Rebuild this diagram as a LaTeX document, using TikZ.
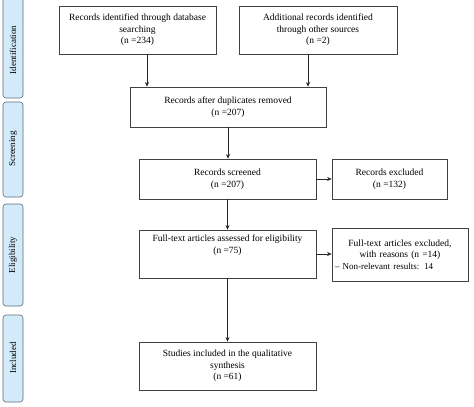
\documentclass[tikz,border=0pt]{standalone}
\usepackage{fontspec}
\setmainfont{Liberation Serif}
\usetikzlibrary{arrows.meta,positioning}
\definecolor{bandfill}{HTML}{D2EAFA}
\definecolor{bandline}{HTML}{5F6B75}
\definecolor{boxline}{HTML}{404040}
\tikzset{>={Stealth[length=4.5pt,width=4pt]},x=1pt,y=-1pt}
\tikzset{
    stage/.style={draw=bandline,fill=bandfill,rounded corners=3pt,line width=0.6pt},
    stagetext/.style={rotate=90,font=\fontsize{9}{10}\selectfont},
    box/.style={draw=boxline,line width=0.7pt,align=center,inner sep=2pt,
        font=\fontsize{9.5}{11.5}\selectfont},
    flow/.style={->,draw=black!85,line width=0.8pt}
}

\begin{document}
\begin{tikzpicture}
    \useasboundingbox (0,0) rectangle (474,407);
    % phase bands on the left
    \begin{scope}
        \clip (0,0) rectangle (474,407);
        \draw[stage] (3,-4) rectangle (23,98);
        \draw[stage] (3,102) rectangle (23,197);
        \draw[stage] (3,204) rectangle (23,306);
        \draw[stage] (3,315) rectangle (23,402);
    \end{scope}
    \node[stagetext] (ident) at (13,50)  {Identification};
    \node[stagetext] (scrn)  at (13,149) {Screening};
    \node[stagetext] (elig)  at (13,255) {Eligibility};
    \node[stagetext] (incl)  at (13,358) {Included};

    % flow boxes
    \node[box,minimum width=157,minimum height=48] (db)  at (137.5,30)
        {Records identified through database\\searching\\(n =234)};
    \node[box,minimum width=158,minimum height=48] (other) at (318,30)
        {Additional records identified\\through other sources\\(n =2)};
    \node[box,minimum width=196,minimum height=40] (dup) at (228,107)
        {Records after duplicates removed\\(n =207)};
    \node[box,minimum width=177,minimum height=40] (scr) at (227.5,179)
        {Records screened\\(n =207)};
    \node[box,minimum width=115,minimum height=40] (exc) at (389.5,179)
        {Records excluded\\(n =132)};
    \node[box,minimum width=177,minimum height=48] (full) at (227.5,254)
        {Full-text articles assessed for eligibility\\(n =75)\\[8pt]};
    \node[box,text width=130,minimum height=53,inner sep=3pt] (ftexc) at (400,254.5)
        {Full-text articles excluded,\\with reasons (n =14)\\
         \makebox[\linewidth][l]{\fontsize{9}{10}\selectfont -- Non-relevant results: 14}};
    \node[box,minimum width=177,minimum height=48] (qual) at (227.5,366)
        {Studies included in the qualitative\\synthesis\\(n =61)};

    % connectors
    \draw[flow] ([xshift=9.5]db.south) -- ([xshift=9.5]db.south |- dup.north);
    \draw[flow] ([xshift=-10]other.south) -- ([xshift=-10]other.south |- dup.north);
    \draw[flow] (dup.south) -- (dup.south |- scr.north);
    \draw[flow] (scr.east) -- (exc.west);
    \draw[flow] (scr.south) -- (full.north);
    \draw[flow] (full.east) -- (full.east -| ftexc.west);
    \draw[flow] (full.south) -- (qual.north);
\end{tikzpicture}
\end{document}
